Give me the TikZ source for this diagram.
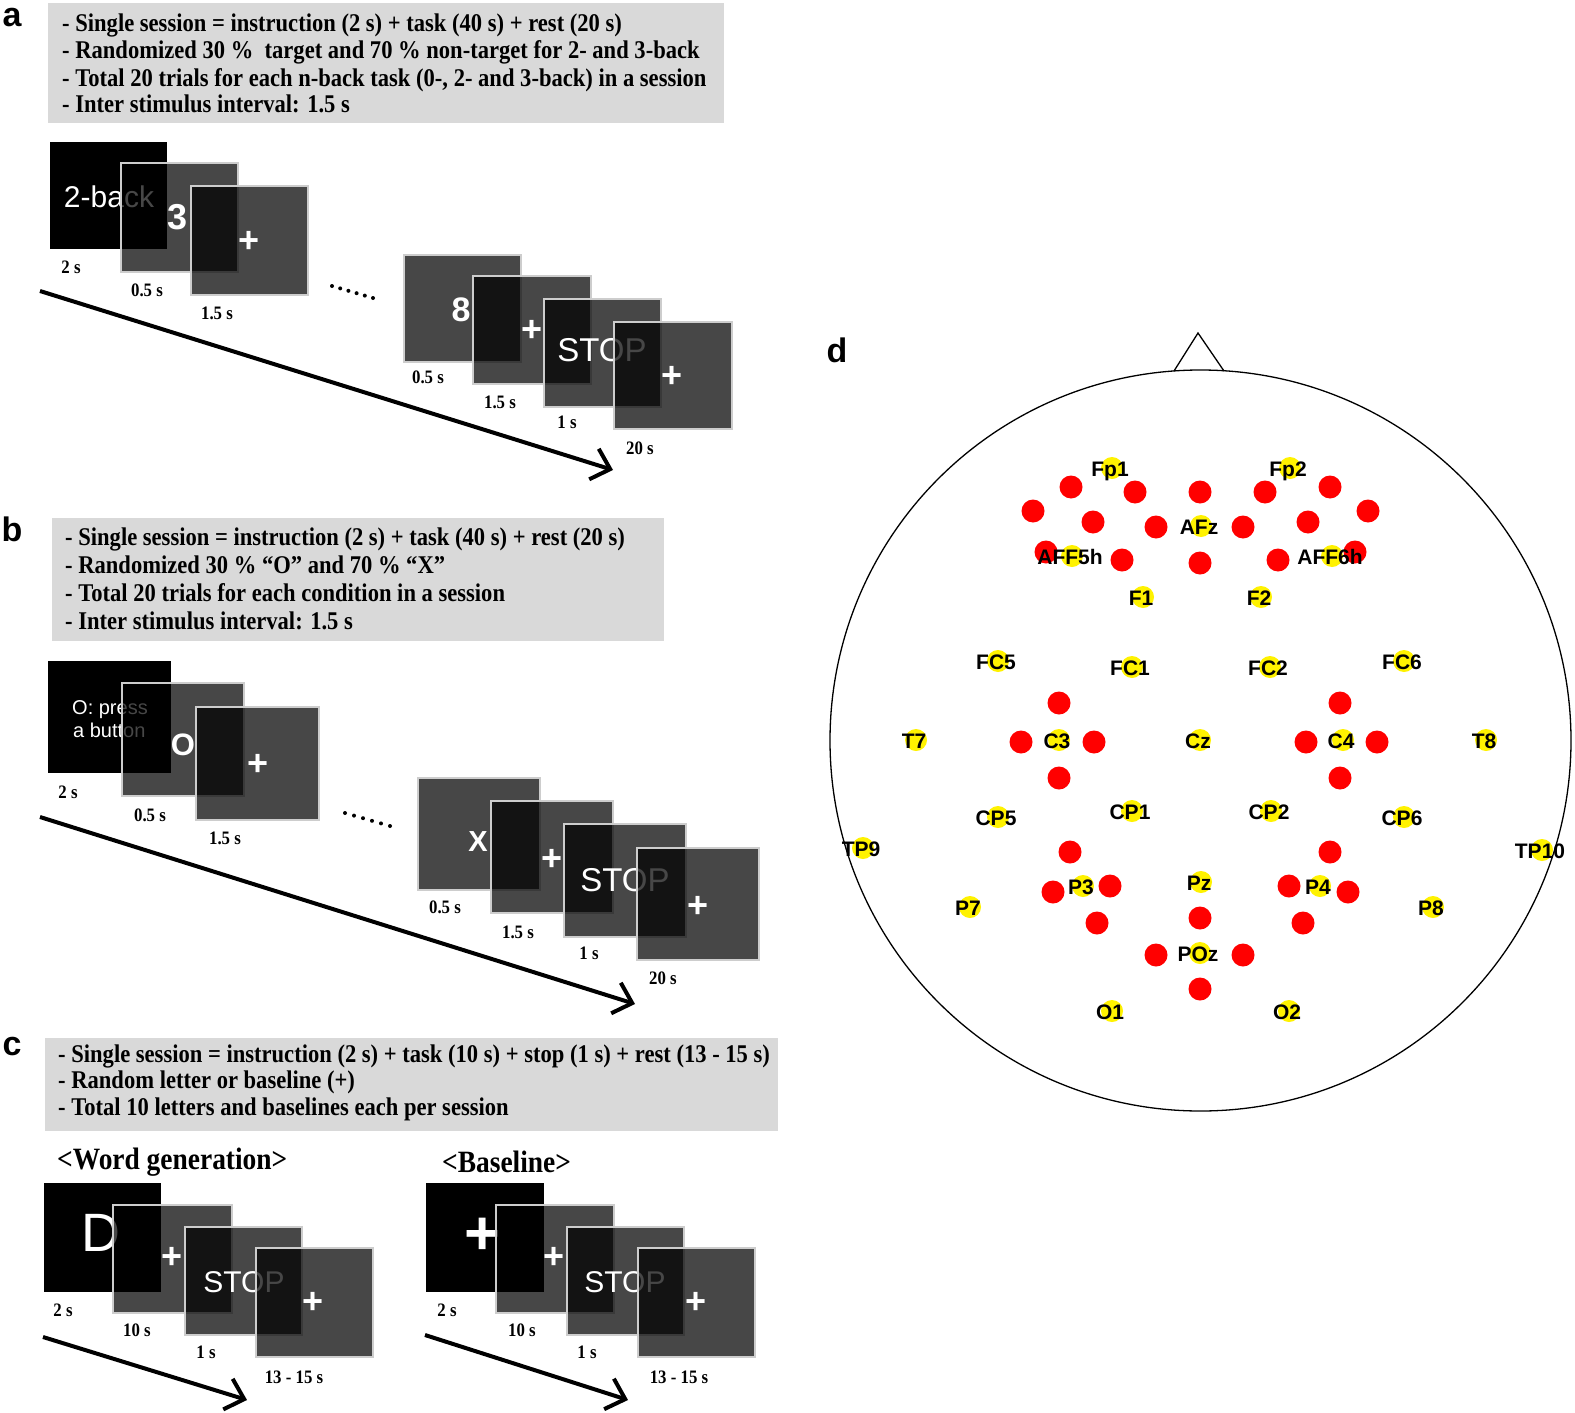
\documentclass[tikz,border=0pt]{standalone}
\usepackage{fontspec}
\setmainfont{Liberation Serif}
\newfontfamily\tnr[FakeStretch=0.885]{Liberation Serif}
\newfontfamily\arial{Liberation Sans}
\usetikzlibrary{arrows.meta}
\definecolor{boxgray}{RGB}{217,217,217}
\definecolor{edgegray}{RGB}{205,205,205}
\begin{document}
\begin{tikzpicture}[x=1pt,y=-1pt,
  info/.style={anchor=base west, inner sep=0, font=\tnr\bfseries\fontsize{25.5}{30}\selectfont},
  tlabel/.style={inner sep=0, font=\tnr\bfseries\fontsize{19}{21}\selectfont},
  header/.style={anchor=west, inner sep=0, font=\tnr\bfseries\fontsize{31}{34}\selectfont},
  scr/.style={fill=black, fill opacity=0.72, draw=edgegray, line width=1.2pt},
  stim/.style={text=white, inner sep=0, font=\arial\fontsize{30}{32}\selectfont},
  bstim/.style={text=white, inner sep=0, font=\arial\bfseries\fontsize{34}{34}\selectfont},
  plusmark/.style={text=white, inner sep=0, font=\arial\bfseries\fontsize{36}{36}\selectfont},
  stoptext/.style={text=white, inner sep=0, font=\arial\fontsize{33}{33}\selectfont},
  timeline/.style={line width=4pt, -{Straight Barb[length=17pt,width=32pt]}},
  panel/.style={inner sep=0, font=\arial\bfseries\fontsize{34}{34}\selectfont},
  elec/.style={circle, fill=red, minimum size=23pt, inner sep=0},
  yel/.style={circle, fill=yellow, minimum size=22pt, inner sep=0},
  elab/.style={anchor=base, inner sep=0, font=\arial\bfseries\fontsize{21}{21}\selectfont},
  dotmark/.style={circle, fill=black, minimum size=4pt, inner sep=0}
]
\useasboundingbox (0,0) rectangle (1575,1413);
\fill[white] (0,0) rectangle (1575,1413);

% ---------------- panel a ----------------
\node[panel] (la) at (12,18) {a};
\fill[boxgray] (48,3) rectangle (724,123);
\node[info] (ia1) at (62,32) {- Single session = instruction (2 s) + task (40 s) + rest (20 s)};
\node[info] (ia2) at (62,59) {- Randomized 30 \% \ target and 70 \% non-target for 2- and 3-back};
\node[info] (ia3) at (62,86) {- Total 20 trials for each n-back task (0-, 2- and 3-back) in a session};
\node[info] (ia4) at (62,113) {- Inter stimulus interval: 1.5 s};

\fill[black] (50,142) rectangle (167,249);
\node[stim] (a1t) at (109,197) {2-back};
\path[scr] (121,163) rectangle (238,272);
\node[bstim, font=\arial\bfseries\fontsize{36}{36}\selectfont] (a2t) at (178,217) {3};
\path[scr] (191,186) rectangle (308,295);
\node[plusmark] (a3t) at (249,242) {+};
\node[tlabel] (al1) at (71,267) {2 s};
\node[tlabel] (al2) at (147,290) {0.5 s};
\node[tlabel] (al3) at (217,313) {1.5 s};
\foreach \k in {0,...,5} \node[dotmark] (ad\k) at ({332+8.2*\k},{286+2.4*\k}) {};

\path[scr] (404,255) rectangle (521,362);
\node[bstim] (a4t) at (461,310) {8};
\path[scr] (473,276) rectangle (591,384);
\node[plusmark] (a5t) at (532,331) {+};
\path[scr] (544,299) rectangle (661,407);
\node[stoptext] (a6t) at (602,350) {STOP};
\path[scr] (614,322) rectangle (732,429);
\node[plusmark] (a7t) at (672,377) {+};
\node[tlabel] (al4) at (428,377) {0.5 s};
\node[tlabel] (al5) at (500,402) {1.5 s};
\node[tlabel] (al6) at (567,422) {1 s};
\node[tlabel] (al7) at (640,448) {20 s};
\coordinate (aS) at (40,291);
\coordinate (aE) at (613,470);
\draw[timeline] (aS) -- (aE);

% ---------------- panel b ----------------
\node[panel] (lb) at (12,529) {b};
\fill[boxgray] (52,518) rectangle (664,641);
\node[info] (ib1) at (65,545) {- Single session = instruction (2 s) + task (40 s) + rest (20 s)};
\node[info] (ib2) at (65,573) {- Randomized 30 \% “O” and 70 \% “X”};
\node[info] (ib3) at (65,601) {- Total 20 trials for each condition in a session};
\node[info] (ib4) at (65,629) {- Inter stimulus interval: 1.5 s};

\fill[black] (48,661) rectangle (171,773);
\node[stim, anchor=base west, font=\arial\fontsize{20}{22}\selectfont] (b1t) at (72,714) {O: press};
\node[stim, anchor=base west, font=\arial\fontsize{20}{22}\selectfont] (b1u) at (73,737) {a button};
\path[scr] (122,683) rectangle (244,796);
\node[bstim, font=\arial\bfseries\fontsize{31}{31}\selectfont] (b2t) at (183,745) {O};
\path[scr] (196,707) rectangle (319,820);
\node[plusmark] (b3t) at (258,765) {+};
\node[tlabel] (bl1) at (68,792) {2 s};
\node[tlabel] (bl2) at (150,815) {0.5 s};
\node[tlabel] (bl3) at (225,838) {1.5 s};
\foreach \k in {0,...,5} \node[dotmark] (bd\k) at ({345+9*\k},{813+2.6*\k}) {};

\path[scr] (418,778) rectangle (540,890);
\node[bstim, font=\arial\bfseries\fontsize{29}{29}\selectfont] (b4t) at (478,842) {X};
\path[scr] (491,801) rectangle (613,913);
\node[plusmark] (b5t) at (552,860) {+};
\path[scr] (564,824) rectangle (686,937);
\node[stoptext] (b6t) at (625,880) {STOP};
\path[scr] (637,848) rectangle (759,960);
\node[plusmark] (b7t) at (698,907) {+};
\node[tlabel] (bl4) at (445,907) {0.5 s};
\node[tlabel] (bl5) at (518,932) {1.5 s};
\node[tlabel] (bl6) at (589,953) {1 s};
\node[tlabel] (bl7) at (663,978) {20 s};
\coordinate (bS) at (40,817);
\coordinate (bE) at (635,1004);
\draw[timeline] (bS) -- (bE);

% ---------------- panel c ----------------
\node[panel] (lc) at (12,1047) {c};
\fill[boxgray] (45,1038) rectangle (778,1131);
\node[info] (ic1) at (58,1062) {- Single session = instruction (2 s) + task (10 s) + stop (1 s) + rest (13 - 15 s)};
\node[info] (ic2) at (58,1088) {- Random letter or baseline (+)};
\node[info] (ic3) at (58,1115) {- Total 10 letters and baselines each per session};

\node[header] (hw) at (57,1162) {<Word generation>};
\node[header] (hb) at (442,1162) {<Baseline>};

\fill[black] (44,1183) rectangle (161,1292);
\node[stim, font=\arial\fontsize{54}{54}\selectfont] (c1t) at (101,1233) {D};
\path[scr] (113,1205) rectangle (232,1313);
\node[plusmark] (c2t) at (172,1258) {+};
\path[scr] (185,1227) rectangle (302,1335);
\node[stoptext, font=\arial\fontsize{30}{30}\selectfont] (c3t) at (244,1282) {STOP};
\path[scr] (256,1248) rectangle (373,1357);
\node[plusmark] (c4t) at (313,1303) {+};
\node[tlabel] (cl1) at (63,1310) {2 s};
\node[tlabel] (cl2) at (137,1330) {10 s};
\node[tlabel] (cl3) at (206,1352) {1 s};
\node[tlabel] (cl4) at (294,1377) {13 - 15 s};
\coordinate (cS) at (43,1337);
\coordinate (cE) at (247,1400);
\draw[timeline] (cS) -- (cE);

\fill[black] (426,1183) rectangle (544,1292);
\node[plusmark, font=\arial\bfseries\fontsize{62}{62}\selectfont] (d1t) at (483,1236) {+};
\path[scr] (496,1205) rectangle (614,1313);
\node[plusmark] (d2t) at (554,1258) {+};
\path[scr] (567,1227) rectangle (684,1335);
\node[stoptext, font=\arial\fontsize{30}{30}\selectfont] (d3t) at (625,1282) {STOP};
\path[scr] (638,1248) rectangle (755,1357);
\node[plusmark] (d4t) at (696,1303) {+};
\node[tlabel] (dl1) at (447,1310) {2 s};
\node[tlabel] (dl2) at (522,1330) {10 s};
\node[tlabel] (dl3) at (587,1352) {1 s};
\node[tlabel] (dl4) at (679,1377) {13 - 15 s};
\coordinate (dS) at (425,1335);
\coordinate (dE) at (628,1400);
\draw[timeline] (dS) -- (dE);

% ---------------- panel d ----------------
\node[panel] (ld) at (837,350) {d};
\draw[line width=1.3pt] (1200.5,740.5) circle[radius=370.5];
\coordinate (nL) at (1174,371);
\coordinate (nT) at (1198,333);
\coordinate (nR) at (1224,371);
\draw[line width=1.3pt] (nL) -- (nT) -- (nR);

\foreach \x/\y [count=\i] in {1071/487,1135/492,1200/492,1265/492,1330/487,
  1033/511,1093/522,1156/527,1243/527,1308/522,1368/511,
  1046/552,1122/560,1200/563,1278/560,1355/552,
  1059/703,1340/703,1021/742,1094/742,1306/742,1377/742,
  1059/778,1340/778,1070/852,1330/852,
  1053/892,1110/886,1289/886,1348/892,
  1097/923,1200/918,1303/923,1156/955,1243/955,1200/989}
  \node[elec] (r\i) at (\x,\y) {};

\foreach \n/\x/\y in {Fp1/1110/468,Fp2/1288/468,AFz/1199/526,AFF5h/1070/556,AFF6h/1330/556,
  F1/1141/597,F2/1259/597,FC5/996/661,FC1/1130/667,FC2/1268/667,FC6/1402/661,
  T7/914/740,C3/1057/740,Cz/1198/740,C4/1341/740,T8/1484/740,
  CP5/996/817,CP1/1130/811,CP2/1269/811,CP6/1402/817,TP9/861/848,TP10/1540/850,
  P7/968/907,P3/1081/886,Pz/1199/882,P4/1318/886,P8/1431/907,
  POz/1198/953,O1/1110/1011,O2/1287/1011}
  \node[yel] (y\n) at ({\x+2},\y) {};

\foreach \n/\x/\y in {Fp1/1110/468,Fp2/1288/468,AFz/1199/526,AFF5h/1070/556,AFF6h/1330/556,
  F1/1141/597,F2/1259/597,FC5/996/661,FC1/1130/667,FC2/1268/667,FC6/1402/661,
  T7/914/740,C3/1057/740,Cz/1198/740,C4/1341/740,T8/1484/740,
  CP5/996/817,CP1/1130/811,CP2/1269/811,CP6/1402/817,TP9/861/848,TP10/1540/850,
  P7/968/907,P3/1081/886,Pz/1199/882,P4/1318/886,P8/1431/907,
  POz/1198/953,O1/1110/1011,O2/1287/1011}
  \node[elab] (t\n) at (\x,{\y+8}) {\n};
\end{tikzpicture}
\end{document}
